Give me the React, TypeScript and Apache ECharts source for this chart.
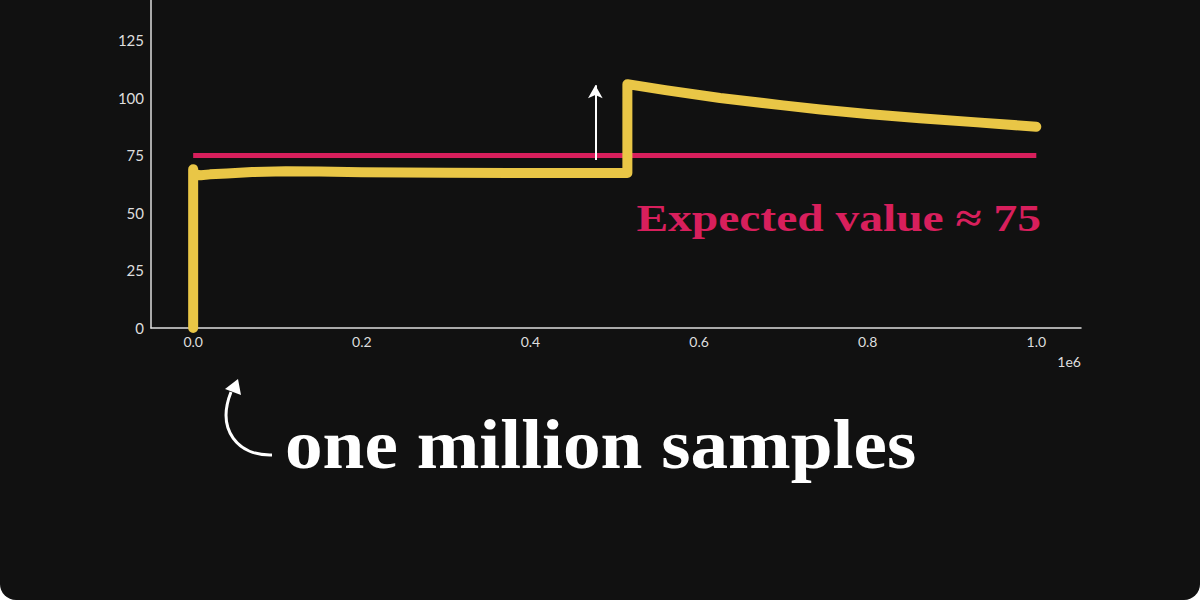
import { useEffect, useRef } from 'react'
import * as echarts from 'echarts'

// running estimate of the mean (x = number of samples, y = estimate)
const sampleCounts = [0, 0, 1500, 4000, 9000, 20000, 40000, 70000, 110000, 150000, 200000, 300000, 400000, 515000, 515000, 560000, 625000, 700000, 744000, 800000, 862000, 930000, 1000000]
const estimates = [0, 69, 66.2, 66.6, 66.4, 66.8, 67.2, 67.8, 68.1, 68.0, 67.7, 67.5, 67.4, 67.4, 106, 103.4, 100, 96.8, 95, 93, 91.2, 89.4, 87.5]

const expectedValue = 75
const expectedRange = [0, 1000000]

const xTickValues = [0, 200000, 400000, 600000, 800000, 1000000]
const yTickValues = [0, 25, 50, 75, 100, 125]

// the little upward arrow marking the jump
const jumpArrowX = 477000
const jumpArrowFrom = 73
const jumpArrowTo = 105.5

const YELLOW = '#e9c646'
const CRIMSON = '#d81f5c'
const AXIS = '#dedede'
const SERIF = '"Liberation Serif", serif'

export default function App() {
  const chartRef = useRef<HTMLDivElement>(null)

  useEffect(() => {
    if (!chartRef.current) return
    const chart = echarts.init(chartRef.current, null, { renderer: 'svg' })

    const option: echarts.EChartsOption = {
      animation: false,
      backgroundColor: 'transparent',
      grid: {
        left: 151,
        right: 119,
        top: 0,
        bottom: 272,
        containLabel: false,
      },
      xAxis: {
        type: 'value',
        min: -50000,
        max: 1053000,
        name: '1e6',
        nameLocation: 'end',
        nameGap: 0,
        nameTextStyle: {
          color: AXIS,
          fontSize: 14,
          fontFamily: 'Lato, sans-serif',
          align: 'right',
          verticalAlign: 'top',
          padding: [26, 0, 0, 0],
        },
        axisLine: { onZero: false, lineStyle: { color: AXIS, width: 1.5 } },
        axisTick: { show: false },
        splitLine: { show: false },
        axisLabel: {
          customValues: xTickValues,
          color: AXIS,
          fontSize: 14,
          fontFamily: 'Lato, sans-serif',
          margin: 6,
          formatter: (v: number) => (v / 1e6).toFixed(1),
        },
      },
      yAxis: {
        type: 'value',
        min: 0,
        max: 142.6,
        axisLine: { show: true, onZero: false, lineStyle: { color: AXIS, width: 1.5 } },
        axisTick: { show: false },
        splitLine: { show: false },
        axisLabel: {
          customValues: yTickValues,
          color: AXIS,
          fontSize: 15,
          fontFamily: 'Lato, sans-serif',
          margin: 7,
        },
      },
      series: [
        {
          type: 'line',
          data: [
            [expectedRange[0], expectedValue],
            [expectedRange[1], expectedValue],
          ],
          symbol: 'none',
          lineStyle: { color: CRIMSON, width: 5 },
          z: 2,
        },
        {
          type: 'line',
          data: sampleCounts.map((x, i) => [x, estimates[i]]),
          symbol: 'none',
          smooth: false,
          lineStyle: { color: YELLOW, width: 10, cap: 'round', join: 'round' },
          z: 3,
        },
        {
          type: 'line',
          data: [],
          symbol: 'none',
          markLine: {
            silent: true,
            symbol: ['none', 'arrow'],
            symbolSize: [11, 13],
            label: { show: false },
            lineStyle: { color: '#ffffff', width: 2, type: 'solid' },
            data: [
              [
                { coord: [jumpArrowX, jumpArrowFrom] },
                { coord: [jumpArrowX, jumpArrowTo] },
              ],
            ],
          },
          z: 4,
        },
      ],
      graphic: [
        {
          type: 'text',
          x: 1041,
          y: 218,
          scaleX: 1.25,
          style: {
            text: 'Expected value ≈ 75',
            fill: CRIMSON,
            fontSize: 38,
            fontFamily: SERIF,
            fontWeight: 'bold',
            align: 'right',
            verticalAlign: 'middle',
          },
        },
        {
          type: 'text',
          x: 285,
          y: 444,
          scaleX: 1.075,
          style: {
            text: 'one million samples',
            fill: '#ffffff',
            fontSize: 70,
            fontFamily: SERIF,
            fontWeight: 'bold',
            align: 'left',
            verticalAlign: 'middle',
          },
        },
        {
          type: 'bezierCurve',
          shape: { x1: 272, y1: 455, cpx1: 238, cpy1: 456, cpx2: 216, cpy2: 430, x2: 231, y2: 392 },
          style: { stroke: '#ffffff', lineWidth: 3, fill: 'none' },
        },
        {
          type: 'polygon',
          shape: { points: [[238, 379], [225, 389], [241, 395]] },
          style: { fill: '#ffffff' },
        },
      ],
    }

    chart.setOption(option)
    return () => chart.dispose()
  }, [])

  return (
    <div style={{ position: 'fixed', left: 0, top: 0, width: 1200, height: 600, background: '#ffffff' }}>
      <div
        style={{
          width: 1200,
          height: 600,
          background: '#111111',
          borderRadius: '0 0 16px 16px',
          overflow: 'hidden',
        }}
      >
        <div ref={chartRef} style={{ width: 1200, height: 600 }} />
      </div>
    </div>
  )
}
